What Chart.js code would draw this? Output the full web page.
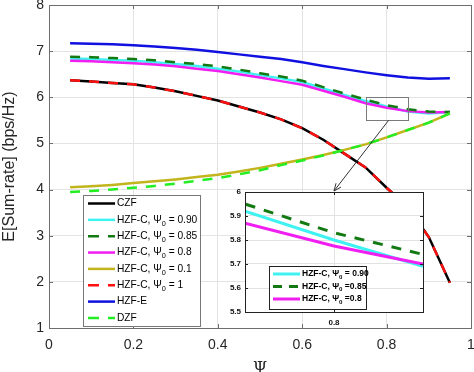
<!DOCTYPE html>
<html>
<head>
<meta charset="utf-8">
<script src="https://cdn.jsdelivr.net/npm/chart.js@4.4.1/dist/chart.umd.min.js"></script>
<style>
  html, body { margin: 0; padding: 0; background: #fff; }
  #wrap { position: relative; width: 474px; height: 372px; }
  #main { position: absolute; left: 0; top: 0; }
  #inset { position: absolute; left: 215px; top: 185px; }
</style>
</head>
<body>
<div id="wrap">
  <canvas id="main" width="474" height="372"></canvas>
  <canvas id="inset" width="215" height="148"></canvas>
</div>
<script>
// Psi values on the x axis
const psi = [0.05, 0.1, 0.15, 0.2, 0.25, 0.3, 0.35, 0.4, 0.45, 0.5, 0.55, 0.6, 0.65, 0.7, 0.75, 0.8, 0.85, 0.9, 0.95];

// Average sum-rate per scheme (bps/Hz)
const czf    = [6.37, 6.34, 6.31, 6.28, 6.21, 6.13, 6.03, 5.93, 5.80, 5.67, 5.52, 5.33, 5.08, 4.78, 4.48, 4.04, 3.62, 2.97, 1.98];
const hzf090 = [6.84, 6.83, 6.81, 6.79, 6.76, 6.72, 6.68, 6.62, 6.56, 6.48, 6.41, 6.33, 6.19, 6.05, 5.92, 5.80, 5.69, 5.65, 5.68];
const hzf085 = [6.88, 6.87, 6.85, 6.83, 6.80, 6.76, 6.72, 6.67, 6.60, 6.52, 6.45, 6.36, 6.22, 6.08, 5.95, 5.83, 5.74, 5.69, 5.68];
const hzf080 = [6.79, 6.78, 6.76, 6.74, 6.71, 6.67, 6.62, 6.57, 6.50, 6.43, 6.35, 6.27, 6.14, 6.01, 5.87, 5.775, 5.70, 5.67, 5.68];
const hzf010 = [4.05, 4.07, 4.10, 4.14, 4.18, 4.22, 4.27, 4.32, 4.39, 4.47, 4.56, 4.65, 4.75, 4.86, 4.98, 5.13, 5.29, 5.45, 5.65];
const hzf100 = [6.37, 6.34, 6.31, 6.28, 6.21, 6.13, 6.03, 5.93, 5.80, 5.67, 5.52, 5.33, 5.08, 4.78, 4.48, 4.04, 3.62, 2.97, 1.98];
const hzfE   = [7.17, 7.16, 7.15, 7.13, 7.10, 7.07, 7.03, 6.98, 6.93, 6.88, 6.83, 6.76, 6.68, 6.61, 6.54, 6.48, 6.43, 6.40, 6.41];
const dzf    = [3.95, 3.97, 4.00, 4.04, 4.08, 4.13, 4.19, 4.25, 4.33, 4.42, 4.53, 4.63, 4.74, 4.86, 4.98, 5.13, 5.29, 5.45, 5.65];

// Legend labels (_0 = subscript zero)
const seriesLabels = ['CZF', 'HZF-C, Ψ_0 = 0.90', 'HZF-C, Ψ_0 = 0.85', 'HZF-C, Ψ_0 = 0.8',
  'HZF-C, Ψ_0 = 0.1', 'HZF-C, Ψ_0 = 1', 'HZF-E', 'DZF'];
const insetLabels = ['HZF-C, Ψ_0 = 0.90', 'HZF-C, Ψ_0 =0.85', 'HZF-C, Ψ_0 =0.8'];

// Axis ticks
const xTicks = [0, 0.2, 0.4, 0.6, 0.8, 1];
const yTicks = [1, 2, 3, 4, 5, 6, 7, 8];
const insetXRange = [0.75, 0.85];
const insetYRange = [5.5, 6.0];
const insetXTicks = [0.8];
const insetYTicks = [5.5, 5.6, 5.7, 5.8, 5.9, 6];

const FONT = '"Liberation Sans", Arial, Helvetica, sans-serif';

// Styles for each series, in legend order
const styles = [
  { color: '#000000', dash: [], order: 9 },
  { color: '#3ff2f2', dash: [], order: 8 },
  { color: '#137a13', dash: [10, 9], order: 6 },
  { color: '#f01ef0', dash: [], order: 7 },
  { color: '#c2b41c', dash: [], order: 5 },
  { color: '#ff1010', dash: [10, 9], order: 4 },
  { color: '#1010e0', dash: [], order: 3 },
  { color: '#22ee22', dash: [10, 9], order: 2 },
];
const allSeries = [czf, hzf090, hzf085, hzf080, hzf010, hzf100, hzfE, dzf];

const toPoints = (ys) => psi.map((x, i) => ({ x: x, y: ys[i] }));

// keep the plot area fixed: no extra room for edge labels
const fixX = (h) => (s) => { s.height = h; s.paddingLeft = 0; s.paddingRight = 0; };
const fixY = (w) => (s) => { s.width = w; s.paddingTop = 0; s.paddingBottom = 0; };

// draws text where "_0" becomes a subscript 0
function drawSubText(ctx, text, x, y, weight, size) {
  const parts = text.split('_0');
  ctx.fillStyle = '#000';
  ctx.textBaseline = 'middle';
  ctx.textAlign = 'left';
  ctx.font = weight + ' ' + size + 'px ' + FONT;
  ctx.fillText(parts[0], x, y);
  let cx = x + ctx.measureText(parts[0]).width;
  if (parts.length > 1) {
    ctx.font = weight + ' ' + (size * 0.72) + 'px ' + FONT;
    ctx.fillText('0', cx, y + size * 0.38);
    cx += ctx.measureText('0').width;
    ctx.font = weight + ' ' + size + 'px ' + FONT;
    ctx.fillText(parts[1], cx, y);
  }
}

function drawLegend(ctx, box, items, o) {
  ctx.save();
  ctx.fillStyle = '#fff';
  ctx.fillRect(box.x, box.y, box.w, box.h);
  ctx.strokeStyle = o.border;
  ctx.lineWidth = 1;
  ctx.strokeRect(box.x + 0.5, box.y + 0.5, box.w, box.h);
  items.forEach((it, i) => {
    const cy = box.y + o.first + i * o.step;
    ctx.beginPath();
    ctx.strokeStyle = it.color;
    ctx.lineWidth = o.lw;
    ctx.setLineDash(it.dash.length ? o.dash : []);
    ctx.moveTo(box.x + o.lx0, cy);
    ctx.lineTo(box.x + o.lx1, cy);
    ctx.stroke();
    ctx.setLineDash([]);
    drawSubText(ctx, it.label, box.x + o.tx, cy, o.weight, o.size);
  });
  ctx.restore();
}

// box with small inward ticks, like the original plot
function drawFrame(ctx, chart, color, tickLen) {
  const ca = chart.chartArea;
  ctx.save();
  ctx.strokeStyle = color;
  ctx.lineWidth = 1;
  ctx.strokeRect(Math.round(ca.left) + 0.5, Math.round(ca.top) + 0.5,
    Math.round(ca.right - ca.left), Math.round(ca.bottom - ca.top));
  if (tickLen) {
    ctx.beginPath();
    chart.scales.x.ticks.forEach(t => {
      const px = Math.round(chart.scales.x.getPixelForValue(t.value)) + 0.5;
      ctx.moveTo(px, ca.bottom); ctx.lineTo(px, ca.bottom - tickLen);
      ctx.moveTo(px, ca.top); ctx.lineTo(px, ca.top + tickLen);
    });
    chart.scales.y.ticks.forEach(t => {
      const py = Math.round(chart.scales.y.getPixelForValue(t.value)) + 0.5;
      ctx.moveTo(ca.left, py); ctx.lineTo(ca.left + tickLen, py);
      ctx.moveTo(ca.right, py); ctx.lineTo(ca.right - tickLen, py);
    });
    ctx.stroke();
  }
  ctx.restore();
}

// ---------- inset chart (zoom of the HZF-C curves) ----------
const insetIdx = [1, 2, 3];
const insetPlugin = {
  id: 'insetDeco',
  beforeDraw(chart) {
    const ca = chart.chartArea;
    chart.ctx.save();
    chart.ctx.fillStyle = '#fff';
    chart.ctx.fillRect(ca.left, ca.top, ca.right - ca.left, ca.bottom - ca.top);
    chart.ctx.restore();
  },
  afterDraw(chart) {
    const ctx = chart.ctx;
    const ca = chart.chartArea;
    drawFrame(ctx, chart, '#222', 3);
    const items = insetIdx.map((k, i) => ({ label: insetLabels[i], color: styles[k].color, dash: styles[k].dash }));
    drawLegend(ctx, { x: ca.left + 24, y: ca.top + 74, w: 97, h: 43 }, items,
      { border: '#222', first: 8, step: 12.5, lw: 3, dash: [9, 7], lx0: 4, lx1: 31, tx: 33, weight: 'bold', size: 8.5 });
  }
};

const insetChart = new Chart(document.getElementById('inset'), {
  type: 'line',
  data: {
    datasets: insetIdx.map(k => ({
      data: toPoints(allSeries[k]),
      borderColor: styles[k].color,
      borderDash: styles[k].dash,
      borderWidth: 3,
      order: styles[k].order,
      pointRadius: 0,
      tension: 0,
    })),
  },
  options: {
    responsive: false,
    animation: false,
    layout: { padding: { left: 5, top: 7, right: 7, bottom: 0 }, autoPadding: false },
    plugins: { legend: { display: false }, tooltip: { enabled: false } },
    scales: {
      x: {
        type: 'linear', min: insetXRange[0], max: insetXRange[1],
        afterBuildTicks: (s) => { s.ticks = insetXTicks.map(v => ({ value: v })); },
        afterFit: fixX(21),
        grid: { color: '#e2e2e2', drawTicks: false },
        border: { display: false },
        ticks: { padding: 6, color: '#111', font: { family: FONT, size: 8, weight: 'bold' }, callback: (v) => String(v) },
      },
      y: {
        min: insetYRange[0], max: insetYRange[1],
        afterBuildTicks: (s) => { s.ticks = insetYTicks.map(v => ({ value: v })); },
        afterFit: fixY(25),
        grid: { color: '#e2e2e2', drawTicks: false },
        border: { display: false },
        ticks: { padding: 4, color: '#111', font: { family: FONT, size: 8, weight: 'bold' }, callback: (v) => String(v) },
      },
    },
  },
  plugins: [insetPlugin],
});

// ---------- main chart ----------
const insetCanvas = document.getElementById('inset');
const mainPlugin = {
  id: 'mainDeco',
  afterDraw(chart) {
    const ctx = chart.ctx;
    const ca = chart.chartArea;
    const xs = chart.scales.x, ys = chart.scales.y;
    drawFrame(ctx, chart, '#6e6e6e', 4);

    // zoom rectangle
    const rx0 = xs.getPixelForValue(insetXRange[0]), rx1 = xs.getPixelForValue(insetXRange[1]);
    const ry0 = ys.getPixelForValue(insetYRange[1]), ry1 = ys.getPixelForValue(insetYRange[0]);
    ctx.save();
    ctx.strokeStyle = '#7a7a7a';
    ctx.lineWidth = 1;
    ctx.strokeRect(Math.round(rx0) + 0.5, Math.round(ry0) + 0.5, Math.round(rx1 - rx0), Math.round(ry1 - ry0));

    // arrow to the inset
    const sx = xs.getPixelForValue(insetXTicks[0]) + 2, sy = ry1;
    const ex = insetCanvas.offsetLeft + insetChart.scales.x.getPixelForValue(insetXTicks[0]);
    const ey = insetCanvas.offsetTop + insetChart.chartArea.top - 1;
    ctx.strokeStyle = '#333';
    ctx.beginPath();
    ctx.moveTo(sx, sy); ctx.lineTo(ex, ey);
    const a = Math.atan2(ey - sy, ex - sx);
    ctx.moveTo(ex - 8 * Math.cos(a - 0.4), ey - 8 * Math.sin(a - 0.4));
    ctx.lineTo(ex, ey);
    ctx.lineTo(ex - 8 * Math.cos(a + 0.4), ey - 8 * Math.sin(a + 0.4));
    ctx.stroke();
    ctx.restore();

    // legend
    const items = seriesLabels.map((l, i) => ({ label: l, color: styles[i].color, dash: styles[i].dash }));
    drawLegend(ctx, { x: ca.left + 34, y: ca.bottom - 133, w: 117, h: 131 }, items,
      { border: '#777', first: 8.5, step: 16.35, lw: 2.5, dash: [11, 9], lx0: 5, lx1: 32, tx: 34, weight: 'normal', size: 10.2 });
  }
};

new Chart(document.getElementById('main'), {
  type: 'line',
  data: {
    datasets: allSeries.map((ys, i) => ({
      label: seriesLabels[i],
      data: toPoints(ys),
      borderColor: styles[i].color,
      borderDash: styles[i].dash,
      borderWidth: 2.5,
      order: styles[i].order,
      pointRadius: 0,
      tension: 0,
    })),
  },
  options: {
    responsive: false,
    animation: false,
    layout: { padding: { left: 0, top: 5, right: 3, bottom: 0 }, autoPadding: false },
    plugins: { legend: { display: false }, tooltip: { enabled: false } },
    scales: {
      x: {
        type: 'linear', min: 0, max: 1,
        afterBuildTicks: (s) => { s.ticks = xTicks.map(v => ({ value: v })); },
        afterFit: fixX(44),
        grid: { color: '#e4e4e4', drawTicks: false },
        border: { display: false },
        ticks: { padding: 9, color: '#262626', font: { family: FONT, size: 14 }, callback: (v) => String(v) },
        title: { display: true, text: 'Ψ', color: '#262626', font: { family: '"DejaVu Serif", serif', size: 16 }, padding: { top: 0, bottom: -6 } },
      },
      y: {
        min: 1, max: 8,
        afterBuildTicks: (s) => { s.ticks = yTicks.map(v => ({ value: v })); },
        afterFit: fixY(49),
        grid: { color: '#e4e4e4', drawTicks: false },
        border: { display: false },
        ticks: { padding: 5, color: '#262626', font: { family: FONT, size: 14 }, callback: (v) => String(v) },
        title: { display: true, text: 'E[Sum-rate] (bps/Hz)', color: '#262626', font: { family: FONT, size: 16 }, padding: { top: 0, bottom: 0 } },
      },
    },
  },
  plugins: [mainPlugin],
});
</script>
</body>
</html>
